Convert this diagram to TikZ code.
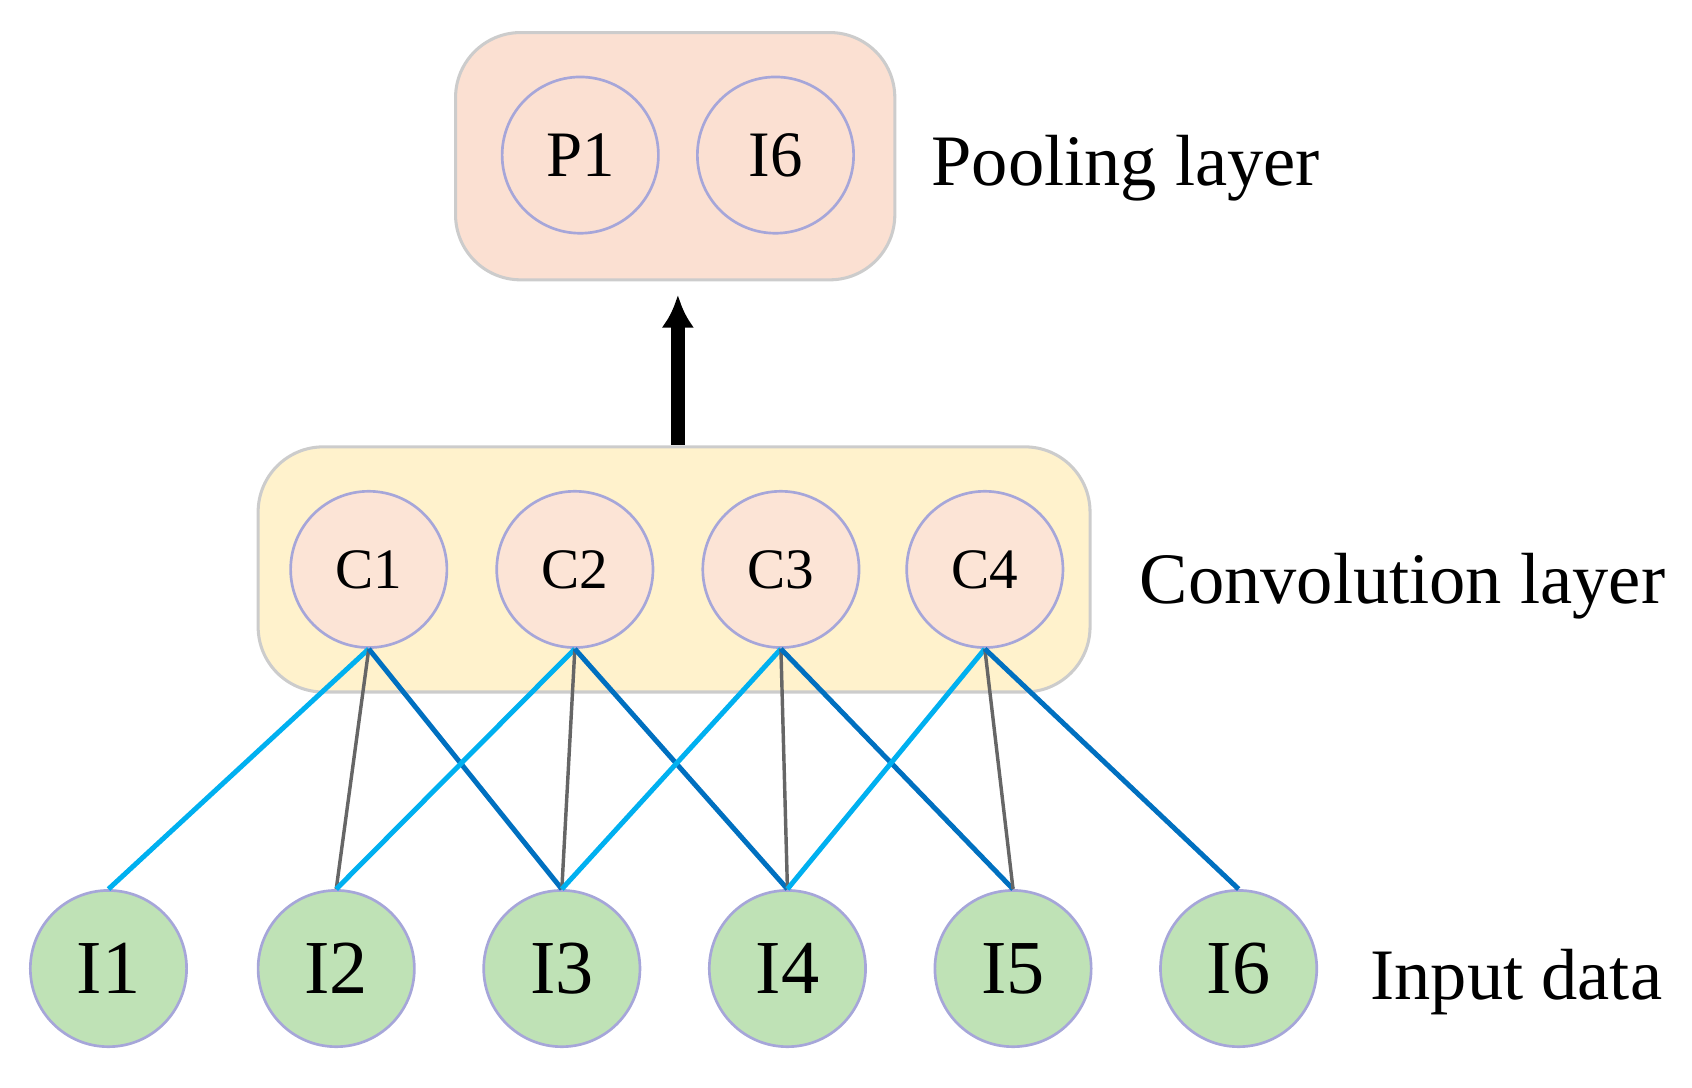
\documentclass[tikz,border=0pt]{standalone}
\usepackage{fontspec}
\setmainfont{Liberation Serif}
\usetikzlibrary{arrows.meta}
\begin{document}
\begin{tikzpicture}[x=0.01cm,y=-0.01cm,
  box/.style={draw=gray!40,rounded corners=0.6cm,line width=0.8pt},
  nd/.style={circle,draw=gray!60!blue!50,line width=0.7pt,minimum size=1.44cm,inner sep=0pt},
  cn/.style={nd,fill=cfill,font=\fontsize{15}{17}\selectfont},
  inp/.style={nd,fill=ifill,font=\fontsize{20}{22}\selectfont},
  pn/.style={nd,fill=pfill,font=\fontsize{17}{19}\selectfont},
  lab/.style={font=\fontsize{19}{22}\selectfont},
  lb/.style={draw=lblue,line width=1.3pt},
  db/.style={draw=dblue,line width=1.3pt},
  gy/.style={draw=gray!80!black,line width=0.9pt}]
\definecolor{cfill}{HTML}{FCE4D6}
\definecolor{pfill}{HTML}{FBE0D2}
\definecolor{ifill}{HTML}{BFE2B6}
\definecolor{yfill}{HTML}{FFF2CC}
\definecolor{lblue}{HTML}{00B0F0}
\definecolor{dblue}{HTML}{0070C0}
\useasboundingbox (0,0) rectangle (1560,1003);
\draw[box,fill=pfill] (420,30) rectangle (825,258);
\node[pn] (P1) at (535,143) {P1};
\node[pn] (P6) at (715,143) {I6};
\node[lab] (pl) at (1038,155) {Pooling layer};
\draw[box,fill=yfill] (238,412) rectangle (1005,638);
\coordinate (as) at (625,410);
\coordinate (ae) at (625,272);
\draw[line width=3.5pt,-{Latex[length=0.3cm,width=0.3cm]}] (as) -- (ae);
\foreach \i/\x in {1/340,2/530,3/720,4/908}{\node[cn] (C\i) at (\x,525) {C\i};}
\node[lab] (cl) at (1293,540) {Convolution layer};
\foreach \i/\x in {1/100,2/310,3/518,4/726,5/934,6/1142}{\node[inp] (I\i) at (\x,893) {I\i};}
\node[lab] (il) at (1398,905) {Input data};
\foreach \c in {1,2,3,4}{
  \pgfmathtruncatemacro{\a}{\c}
  \pgfmathtruncatemacro{\b}{\c+1}
  \pgfmathtruncatemacro{\d}{\c+2}
  \draw[lb] (C\c.south) -- (I\a.north);
  \draw[gy] (C\c.south) -- (I\b.north);
  \draw[db] (C\c.south) -- (I\d.north);
}
\end{tikzpicture}
\end{document}
